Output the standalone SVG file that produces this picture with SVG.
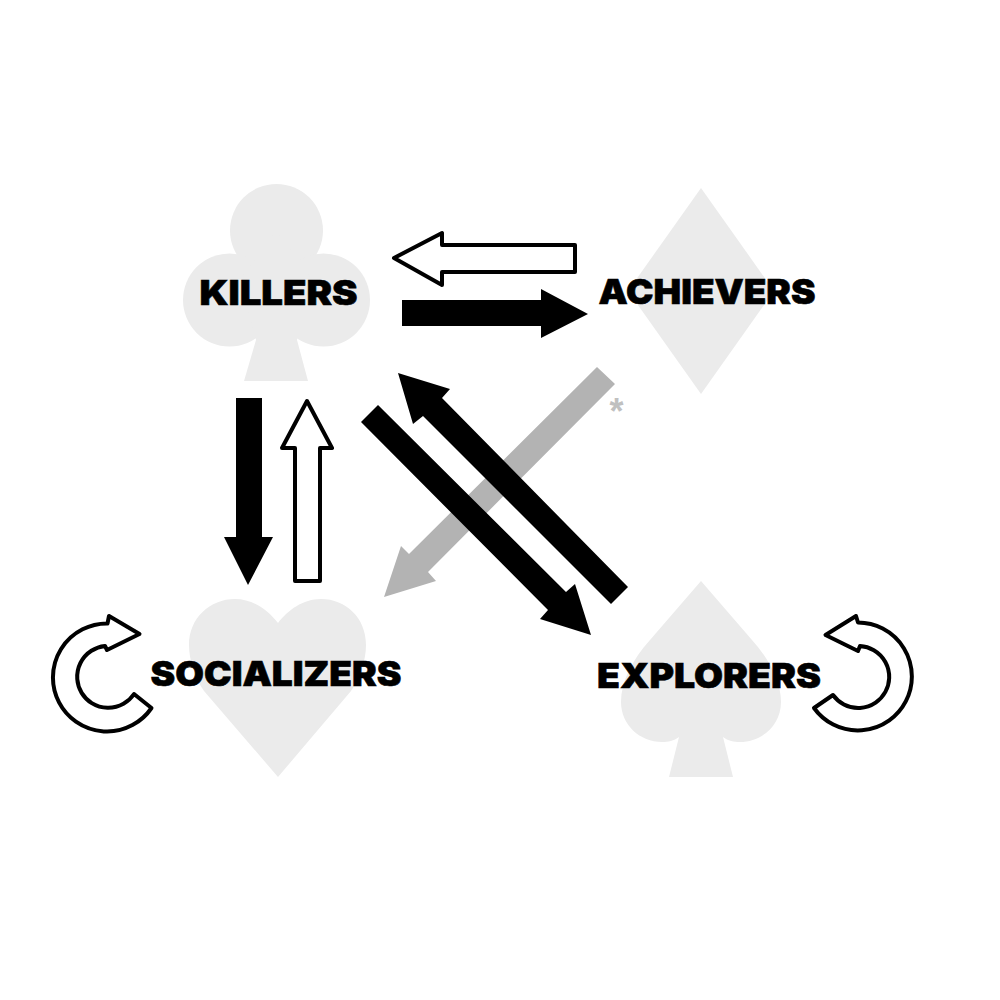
<svg xmlns="http://www.w3.org/2000/svg" width="1000" height="1000" viewBox="0 0 1000 1000">
<style>
.suit{fill:#ebebeb}
.lbl{font-family:Inter,"Liberation Sans",Arial,sans-serif;font-weight:900;font-size:34px;fill:#000;stroke:#000;stroke-width:.6px}
.blk{fill:#000}
.out{fill:#fff;stroke:#000;stroke-width:4;stroke-linejoin:round}
.gry{fill:#b3b3b3}
</style>
<rect width="1000" height="1000" fill="#fff"/>
<g id="killers">
<g class="suit"><circle cx="276.500" cy="230.500" r="46.500"/><circle cx="229.500" cy="300" r="46.500"/><circle cx="323.500" cy="300" r="46.500"/><polygon points="276,230 240,280 256,340 244,381 308,381 297,340 312,280"/></g>
<text class="lbl" x="199.500" y="304.500" textLength="158" lengthAdjust="spacingAndGlyphs">KILLERS</text>
</g>
<g id="achievers">
<polygon class="suit" points="701,188 774,291 701,394 628,291"/>
<text class="lbl" x="598.500" y="303.500" textLength="217" lengthAdjust="spacingAndGlyphs">ACHIEVERS</text>
</g>
<g id="socializers">
<path class="suit" d="M278 777L204 691C195 678 189 660 189 645C189 618 210 599 235 599C253 599 268 610 278 623C288 610 303 599 321 599C346 599 366 618 366 645C366 660 360 678 351 691Z"/>
<text class="lbl" x="150.500" y="685.500" textLength="251" lengthAdjust="spacingAndGlyphs">SOCIALIZERS</text>
<path class="out" d="M107.500 623.500L109 616L139.500 634L107 650L105 646A31 31 0 1 0 134 694L151.500 708A54 54 0 1 1 107.500 623.500Z"/>
</g>
<g id="explorers">
<path class="suit" d="M701 581L650 640C632 660 621 682 621 702C621 725 640 742 662 742C668 742 674 741 679 737L669 777H733L723 737C728 741 734 742 740 742C762 742 781 725 781 702C781 682 770 660 752 640Z"/>
<text class="lbl" x="597" y="687.500" textLength="224" lengthAdjust="spacingAndGlyphs">EXPLORERS</text>
<path class="out" d="M858 622.500L856 616L825.500 635L858 651L860 646A31 31 0 1 1 833 695L814 708A54 54 0 1 0 858 622.500Z"/>
</g>
<g id="connectors">
<polygon class="out" points="394,258 442,233 442,245 575,245 575,272 442,272 442,285"/>
<polygon class="blk" points="402,300 541,300 541,289 588,314 541,338 541,326 402,326"/>
<polygon class="blk" points="236,398 262,398 262,537 273,537 248,585 224,537 236,537"/>
<polygon class="out" points="307,401 332,448 320,448 320,581 295,581 295,448 282,448"/>
<polygon class="gry" points="597,367 615,384 428,572 436,581 384,597 401,546 409,554"/>
<polygon class="blk" points="378,405 566,592 575,584 591,635 540,619 548,610 361,422"/>
<polygon class="blk" points="398,373 450,389 442,398 628,587 611,604 423,416 413,424"/>
<text x="616.500" y="424" font-family="Liberation Sans,sans-serif" font-size="36" font-weight="700" fill="#c0c0c0" text-anchor="middle">*</text>
</g>
</svg>
